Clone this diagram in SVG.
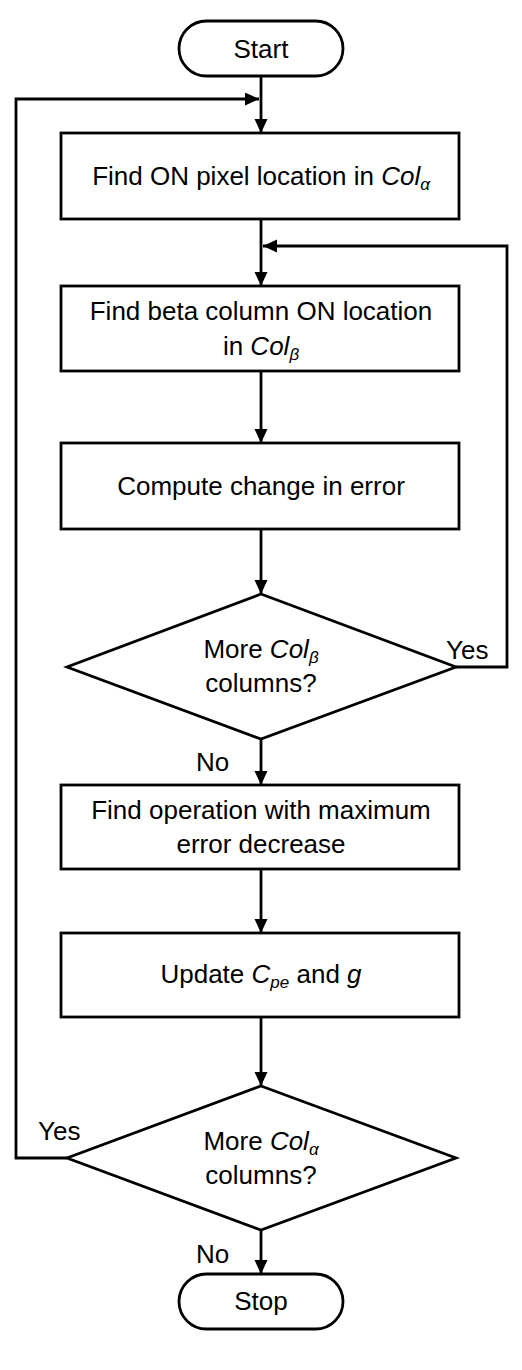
<svg xmlns="http://www.w3.org/2000/svg" width="522" height="1370" viewBox="0 0 522 1370">
<style>
.shape{fill:#fff;stroke:#000;stroke-width:2.8}
.con{fill:none;stroke:#000;stroke-width:2.8}
text{font-family:"Liberation Sans",Arial,sans-serif;font-size:26px;fill:#000}
.c{text-anchor:middle}
.i{font-style:italic}
.sub{font-style:italic;font-size:17px}
</style>
<defs>
<marker id="arr" markerUnits="userSpaceOnUse" markerWidth="15" markerHeight="14" refX="14" refY="6.5" orient="auto">
<path d="M0,0 L14,6.5 L0,13 z" fill="#000"/>
</marker>
</defs>
<rect width="522" height="1370" fill="#fff"/>
<g id="connectors">
<line class="con" x1="261" y1="76" x2="261" y2="133" marker-end="url(#arr)"/>
<polyline class="con" points="67,1158 16,1158 16,99 259,99" marker-end="url(#arr)"/>
<line class="con" x1="261" y1="219" x2="261" y2="286" marker-end="url(#arr)"/>
<polyline class="con" points="456,667 507,667 507,246 263,246" marker-end="url(#arr)"/>
<line class="con" x1="261" y1="371" x2="261" y2="443" marker-end="url(#arr)"/>
<line class="con" x1="261" y1="529" x2="261" y2="594" marker-end="url(#arr)"/>
<line class="con" x1="261" y1="739" x2="261" y2="785" marker-end="url(#arr)"/>
<line class="con" x1="261" y1="869" x2="261" y2="933" marker-end="url(#arr)"/>
<line class="con" x1="261" y1="1017" x2="261" y2="1086" marker-end="url(#arr)"/>
<line class="con" x1="261" y1="1230" x2="261" y2="1274" marker-end="url(#arr)"/>
<text x="446" y="659">Yes</text>
<text x="196" y="771">No</text>
<text x="38" y="1140">Yes</text>
<text x="196" y="1263">No</text>
</g>
<g id="start">
<rect class="shape" x="179" y="21" width="164" height="55" rx="27.5"/>
<text class="c" x="261" y="58">Start</text>
</g>
<g id="find-on">
<rect class="shape" x="61" y="133" width="398" height="86"/>
<text class="c" x="261" y="185">Find ON pixel location in <tspan class="i">Col</tspan><tspan class="sub" dy="5">α</tspan></text>
</g>
<g id="find-beta">
<rect class="shape" x="61" y="286" width="398" height="85"/>
<text class="c" x="261" y="320">Find beta column ON location</text>
<text class="c" x="261" y="355">in <tspan class="i">Col</tspan><tspan class="sub" dy="5">β</tspan></text>
</g>
<g id="compute">
<rect class="shape" x="61" y="443" width="398" height="86"/>
<text class="c" x="261" y="495">Compute change in error</text>
</g>
<g id="more-beta">
<polygon class="shape" points="261,594 456,667 261,739 67,667"/>
<text class="c" x="261" y="658">More <tspan class="i">Col</tspan><tspan class="sub" dy="5">β</tspan></text>
<text class="c" x="261" y="692">columns?</text>
</g>
<g id="find-op">
<rect class="shape" x="61" y="785" width="398" height="84"/>
<text class="c" x="261" y="819">Find operation with maximum</text>
<text class="c" x="261" y="853">error decrease</text>
</g>
<g id="update">
<rect class="shape" x="61" y="933" width="398" height="84"/>
<text class="c" x="261" y="983">Update <tspan class="i">C</tspan><tspan class="sub" dy="5">pe</tspan><tspan dy="-5"> and </tspan><tspan class="i">g</tspan></text>
</g>
<g id="more-alpha">
<polygon class="shape" points="261,1086 456,1158 261,1230 67,1158"/>
<text class="c" x="261" y="1150">More <tspan class="i">Col</tspan><tspan class="sub" dy="5">α</tspan></text>
<text class="c" x="261" y="1184">columns?</text>
</g>
<g id="stop">
<rect class="shape" x="179" y="1274" width="164" height="55" rx="27.5"/>
<text class="c" x="261" y="1310">Stop</text>
</g>
</svg>
